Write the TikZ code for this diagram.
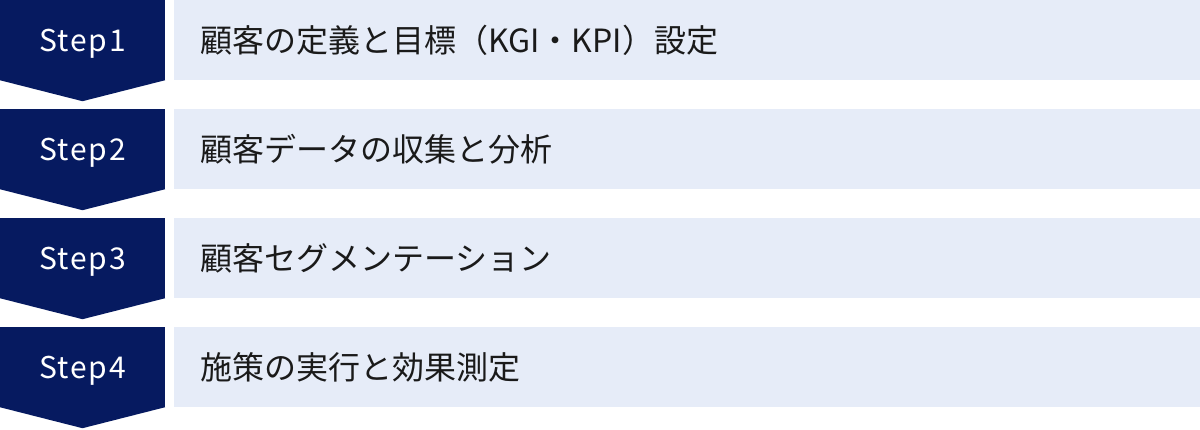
\documentclass[tikz,border=0pt]{standalone}
\usepackage{fontspec}
\setmainfont{Noto Sans CJK JP}
\newfontfamily\stepfont[LetterSpace=6]{Noto Sans CJK JP}
\usetikzlibrary{positioning}
\definecolor{navy}{HTML}{061A60}
\definecolor{paleblue}{HTML}{E6ECF8}
\definecolor{ink}{HTML}{1A1A1A}

\begin{document}
\begin{tikzpicture}[x=1pt,y=1pt,node distance=109pt,
	step node/.style={rectangle,fill=navy,text=white,minimum width=165pt,minimum height=80pt,inner sep=0pt,
		font=\stepfont\fontsize{30}{36}\selectfont,text height=26.4pt,text depth=3.6pt},
	task node/.style={rectangle,fill=paleblue,text=ink,minimum height=80pt,text width=974pt,inner xsep=26pt,inner ysep=0pt,
		align=left,font=\fontsize{32}{38}\selectfont,text height=28.2pt,text depth=3.8pt}]

	\useasboundingbox (0,0) rectangle (1200,-429);

	\node[step node] (s1) at (82.5,-40) {Step1};
	\node[step node] (s2) [below of=s1] {Step2};
	\node[step node] (s3) [below of=s2] {Step3};
	\node[step node] (s4) [below of=s3] {Step4};

	% pointed bottoms
	\foreach \i in {1,...,4}
		\fill[navy] (s\i.south west) -- (s\i.south east) -- ([yshift=-21pt]s\i.south) -- cycle;

	\node[task node] (t1) [right=9pt of s1] {顧客の定義と目標（KGI・KPI）設定};
	\node[task node] (t2) [right=9pt of s2] {顧客データの収集と分析};
	\node[task node] (t3) [right=9pt of s3] {顧客セグメンテーション};
	\node[task node] (t4) [right=9pt of s4] {施策の実行と効果測定};
\end{tikzpicture}
\end{document}
